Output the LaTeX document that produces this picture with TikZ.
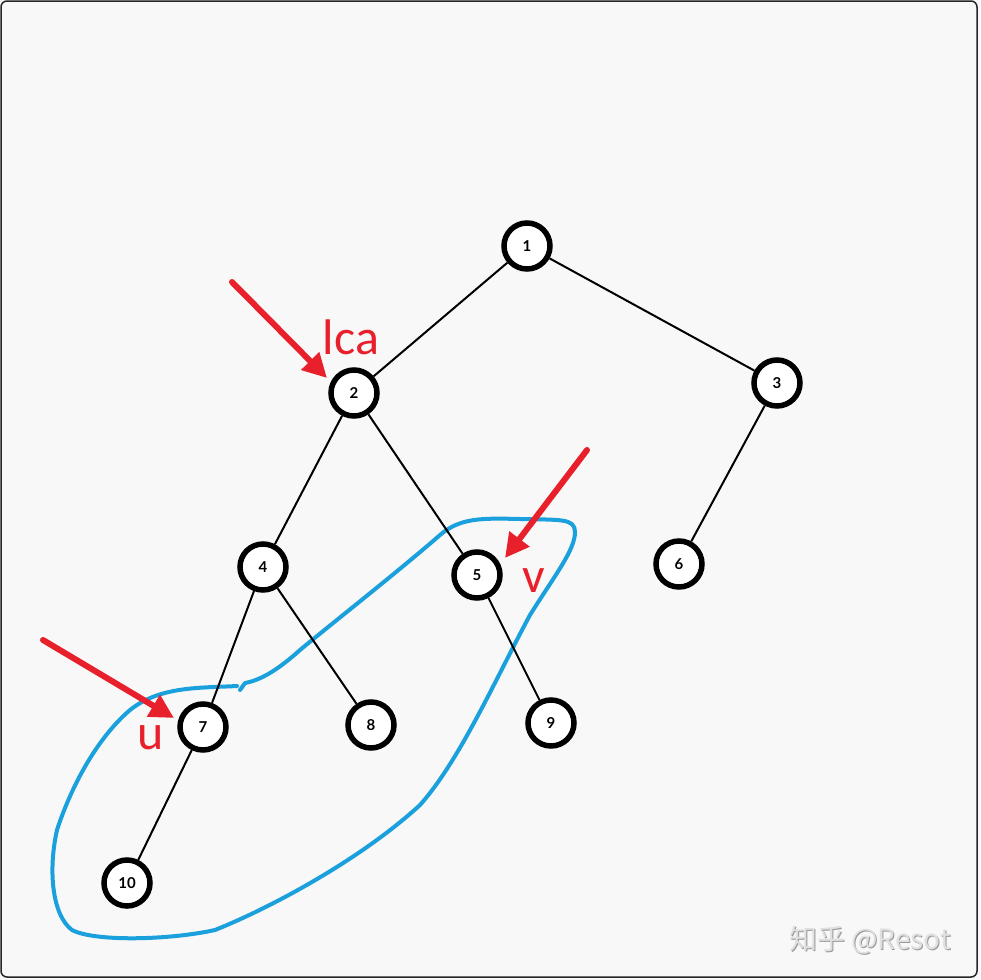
\documentclass[tikz,border=0pt]{standalone}
\usepackage{fontspec}
\setmainfont{Carlito}
\newfontfamily\cjkfont{Noto Sans CJK SC}
\newfontfamily\numfont{Lato}
\usetikzlibrary{arrows.meta}
\definecolor{bgc}{HTML}{F8F8F8}
\definecolor{redc}{HTML}{E8202C}
\definecolor{bluec}{HTML}{1AA0DC}
\tikzset{
  tnode/.style={circle, draw=black, line width=5.5pt, fill=white, minimum size=46pt, inner sep=0pt, font=\numfont\bfseries\fontsize{15}{15}\selectfont},
  edge/.style={draw=black, line width=2pt},
  redarrow/.style={draw=redc, line width=6pt, line cap=round, -{Triangle[length=24pt,width=24pt]}},
  redlabel/.style={text=redc, font=\fontsize{50}{50}\selectfont, inner sep=0pt, anchor=base},
  wm/.style={font=\cjkfont\fontsize{28}{28}\selectfont, inner sep=0pt}
}
\begin{document}
\begin{tikzpicture}[x=1pt,y=-1pt]
\useasboundingbox (0,0) rectangle (980,980);
\fill[bgc] (0,0) rectangle (980,980);
\draw[black!85, line width=1.5pt, rounded corners=6pt] (1,1) rectangle (977,977);

% blue curve
\draw[bluec, line width=4pt, line join=round, line cap=round]
  (237,686) .. controls (200,688) and (160,686) .. (130,710)
  .. controls (95,740) and (70,790) .. (57,830)
  .. controls (48,870) and (52,915) .. (72,930)
  .. controls (95,942) and (170,940) .. (215,930)
  .. controls (270,908) and (360,860) .. (420,805)
  .. controls (460,760) and (495,680) .. (530,615)
  .. controls (555,575) and (575,550) .. (575,532)
  .. controls (575,518) and (560,520) .. (520,519)
  .. controls (480,518) and (460,518) .. (440,535)
  .. controls (400,570) and (330,625) .. (300,650)
  .. controls (280,668) and (262,680) .. (245,683)
  -- (240,690);

% nodes
\node[tnode] (n1) at (527,246) {1};
\node[tnode] (n2) at (354,393) {2};
\node[tnode] (n3) at (777,383) {3};
\node[tnode] (n4) at (263,567) {4};
\node[tnode] (n5) at (477,575) {5};
\node[tnode] (n6) at (679,564) {6};
\node[tnode] (n7) at (203,727) {7};
\node[tnode] (n8) at (371,725) {8};
\node[tnode] (n9) at (551,723) {9};
\node[tnode] (n10) at (127,883) {10};

% edges
\draw[edge] (n1) -- (n2);
\draw[edge] (n1) -- (n3);
\draw[edge] (n2) -- (n4);
\draw[edge] (n2) -- (n5);
\draw[edge] (n3) -- (n6);
\draw[edge] (n4) -- (n7);
\draw[edge] (n4) -- (n8);
\draw[edge] (n5) -- (n9);
\draw[edge] (n7) -- (n10);

% red arrows
\coordinate (lcaS) at (232,282);
\coordinate (lcaT) at (327,378);
\coordinate (vS) at (587,450);
\coordinate (vT) at (505,558);
\coordinate (uS) at (43,640);
\coordinate (uT) at (174,718);
\draw[redarrow] (lcaS) -- (lcaT);
\draw[redarrow] (vS) -- (vT);
\draw[redarrow] (uS) -- (uT);

% labels
\node[redlabel] (llca) at (351,354) {lca};
\node[redlabel] (lv) at (534,592) {v};
\node[redlabel] (lu) at (151,749) {u};

% watermark
\node[wm, text=black!40] (wms) at (871,941) {知乎 @Resot};
\node[wm, text=black!12] (wm) at (870,940) {知乎 @Resot};
\end{tikzpicture}
\end{document}
